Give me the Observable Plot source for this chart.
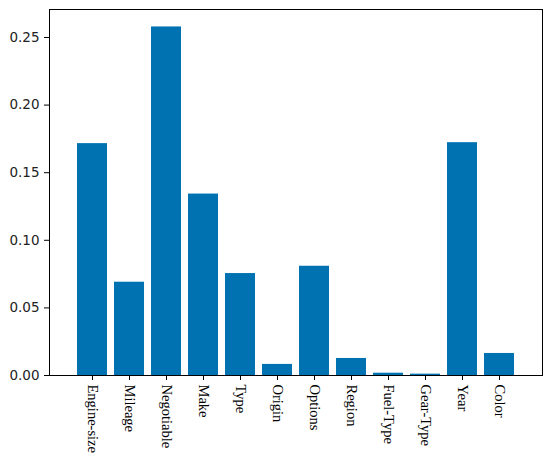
<!DOCTYPE html>
<html>
<head>
<meta charset="utf-8">
<script src="https://cdn.jsdelivr.net/npm/d3@7"></script>
<script src="https://cdn.jsdelivr.net/npm/@observablehq/plot@0.6"></script>
<style>
  html, body { margin: 0; padding: 0; background: #fff; }
</style>
</head>
<body>
<div id="chart"></div>
<script>
const features = ["Engine-size", "Mileage", "Negotiable", "Make", "Type", "Origin", "Options", "Region", "Fuel-Type", "Gear-Type", "Year", "Color"];
const importance = [0.1715, 0.069, 0.2578, 0.1342, 0.0754, 0.0082, 0.0808, 0.0126, 0.0017, 0.0010, 0.1722, 0.0163];
const yTicks = [0, 0.05, 0.10, 0.15, 0.20, 0.25];

const data = features.map((f, i) => ({feature: f, value: importance[i]}));

const chart = Plot.plot({
  width: 550,
  height: 464,
  marginLeft: 49,
  marginRight: 8,
  marginTop: 9,
  marginBottom: 89,
  style: {background: "#fff", color: "#000"},
  x: {domain: features, paddingInner: 0.2, paddingOuter: 0.6, label: null},
  y: {domain: [0, 0.2707], label: null},
  marks: [
    Plot.barY(data, {x: "feature", y: "value", fill: "#0072b2"}),
    Plot.frame({stroke: "#000", strokeWidth: 1}),
    Plot.axisY({ticks: yTicks, tickFormat: d3.format(".2f"), tickSize: 5, tickPadding: 5, fontSize: 13.5, fontFamily: "DejaVu Sans", label: null, fill: "#222"}),
    Plot.axisX({tickSize: 5, tickPadding: 4, tickRotate: 90, fontSize: 14.5, fontFamily: "Liberation Serif", label: null, fill: "#000"})
  ]
});
document.getElementById("chart").appendChild(chart);
</script>
</body>
</html>
